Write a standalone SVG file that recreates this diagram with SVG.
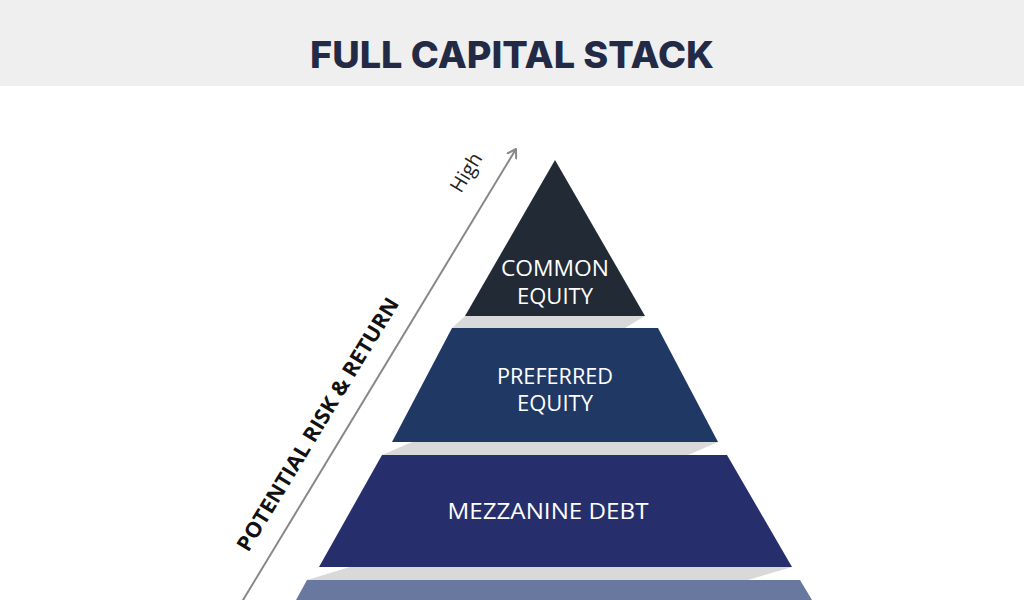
<svg xmlns="http://www.w3.org/2000/svg" width="1024" height="600" viewBox="0 0 1024 600">
  <defs>
    <marker id="arrowhead" markerWidth="12" markerHeight="12" refX="9" refY="6" orient="auto" markerUnits="userSpaceOnUse">
      <path d="M1,1 L9,6 L1,11" fill="none" stroke="#888888" stroke-width="2" stroke-linecap="round" stroke-linejoin="round"/>
    </marker>
    <style>
      .label { font-family: "Open Sans", "Noto Sans", "Liberation Sans", sans-serif; font-weight: 400; font-size: 21px; fill: #ffffff; text-anchor: middle; }
      .band { fill: #d9d9d9; }
      .title { font-family: "Inter", "Liberation Sans", sans-serif; font-weight: 800; font-size: 37px; fill: #232a45; text-anchor: middle; }
      .axis { font-family: "Open Sans", "Liberation Sans", sans-serif; font-weight: 700; font-size: 21px; fill: #111111; text-anchor: middle; }
      .high { font-family: "Open Sans", "Liberation Sans", sans-serif; font-weight: 400; font-size: 20px; fill: #222222; text-anchor: middle; }
    </style>
  </defs>
  <rect width="1024" height="600" fill="#ffffff"/>
  <g id="header">
    <rect x="0" y="0" width="1024" height="86" fill="#efefef"/>
    <text class="title" x="512" y="68" textLength="404" lengthAdjust="spacingAndGlyphs">FULL CAPITAL STACK</text>
  </g>

  <g id="bands">
    <polygon class="band" points="465,316 645,316 625,328 452,328"/>
    <polygon class="band" points="412,442 718,442 688,455 382,455"/>
    <polygon class="band" points="350,567 792,567 748,580 307,580"/>
  </g>

  <g id="common-equity">
    <polygon points="555,160 645,316 465,316" fill="#222a35"/>
    <text class="label" x="555" y="276" textLength="108" lengthAdjust="spacingAndGlyphs">COMMON</text>
    <text class="label" x="555" y="304" textLength="76" lengthAdjust="spacingAndGlyphs">EQUITY</text>
  </g>
  <g id="preferred-equity">
    <polygon points="452,328 658,328 718,442 392,442" fill="#203864"/>
    <text class="label" x="555" y="384" textLength="116" lengthAdjust="spacingAndGlyphs">PREFERRED</text>
    <text class="label" x="555" y="411" textLength="76" lengthAdjust="spacingAndGlyphs">EQUITY</text>
  </g>
  <g id="mezzanine-debt">
    <polygon points="382,455 727,455 792,567 319,567" fill="#262e6c"/>
    <text class="label" x="548" y="519" textLength="201" lengthAdjust="spacingAndGlyphs">MEZZANINE DEBT</text>
  </g>
  <g id="senior-debt">
    <polygon points="307,580 800,580 812,600 296,600" fill="#68789e"/>
  </g>

  <g id="connectors">
    <line x1="240" y1="605" x2="516" y2="149" stroke="#888888" stroke-width="2" marker-end="url(#arrowhead)"/>
  </g>

  <g id="axis-labels">
    <text class="axis" transform="translate(324,428) rotate(-58.8)" textLength="292" lengthAdjust="spacingAndGlyphs">POTENTIAL RISK &amp; RETURN</text>
    <text class="high" transform="translate(472,176) rotate(-58.8)" textLength="42" lengthAdjust="spacingAndGlyphs">High</text>
  </g>
</svg>
